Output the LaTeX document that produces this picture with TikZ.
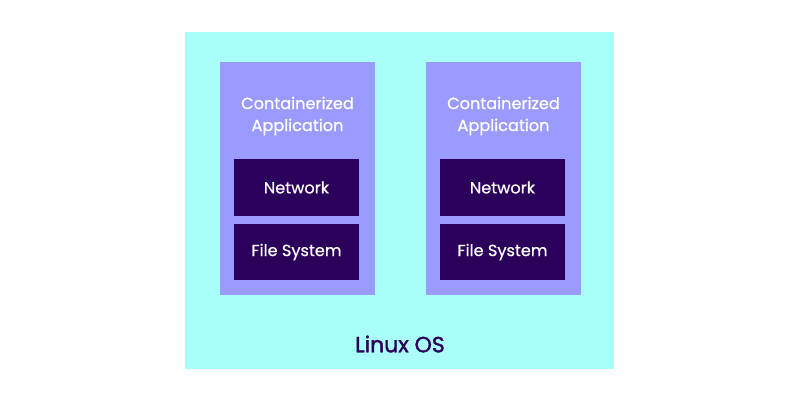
\documentclass[tikz,border=0pt]{standalone}
\usepackage{fontspec}
\setmainfont{Poppins}
\newfontfamily\medfont{Poppins}[FakeBold=0.6]
\newfontfamily\semifont{Poppins}[FakeBold=1.6]
\begin{document}
\begin{tikzpicture}[x=0.02cm,y=-0.02cm,
  lab/.style={text=white,font=\medfont\fontsize{9.2pt}{11.5pt}\selectfont,align=center}]
\definecolor{cyanbg}{RGB}{170,255,250}
\definecolor{purp}{RGB}{155,155,255}
\definecolor{dark}{RGB}{42,0,90}
\useasboundingbox (0,0) rectangle (800,400);
\fill[white] (0,0) rectangle (800,400);
\fill[cyanbg] (185,32) rectangle (614,369);
\node[text=dark,font=\semifont\fontsize{12.5pt}{14pt}\selectfont] (os) at (400,344) {Linux OS};
\foreach \x/\n in {220/a,426/b}{
  \fill[purp] (\x,62) rectangle ++(155,233);
  \node[lab] (t\n) at (\x+77.5,116) {Containerized\\[1pt]Application};
  \fill[dark] (\x+14,159) rectangle ++(125,57);
  \node[lab] (n\n) at (\x+76.5,187.5) {Network};
  \fill[dark] (\x+14,224) rectangle ++(125,56);
  \node[lab] (f\n) at (\x+76.5,252) {File System};
}
\end{tikzpicture}
\end{document}
